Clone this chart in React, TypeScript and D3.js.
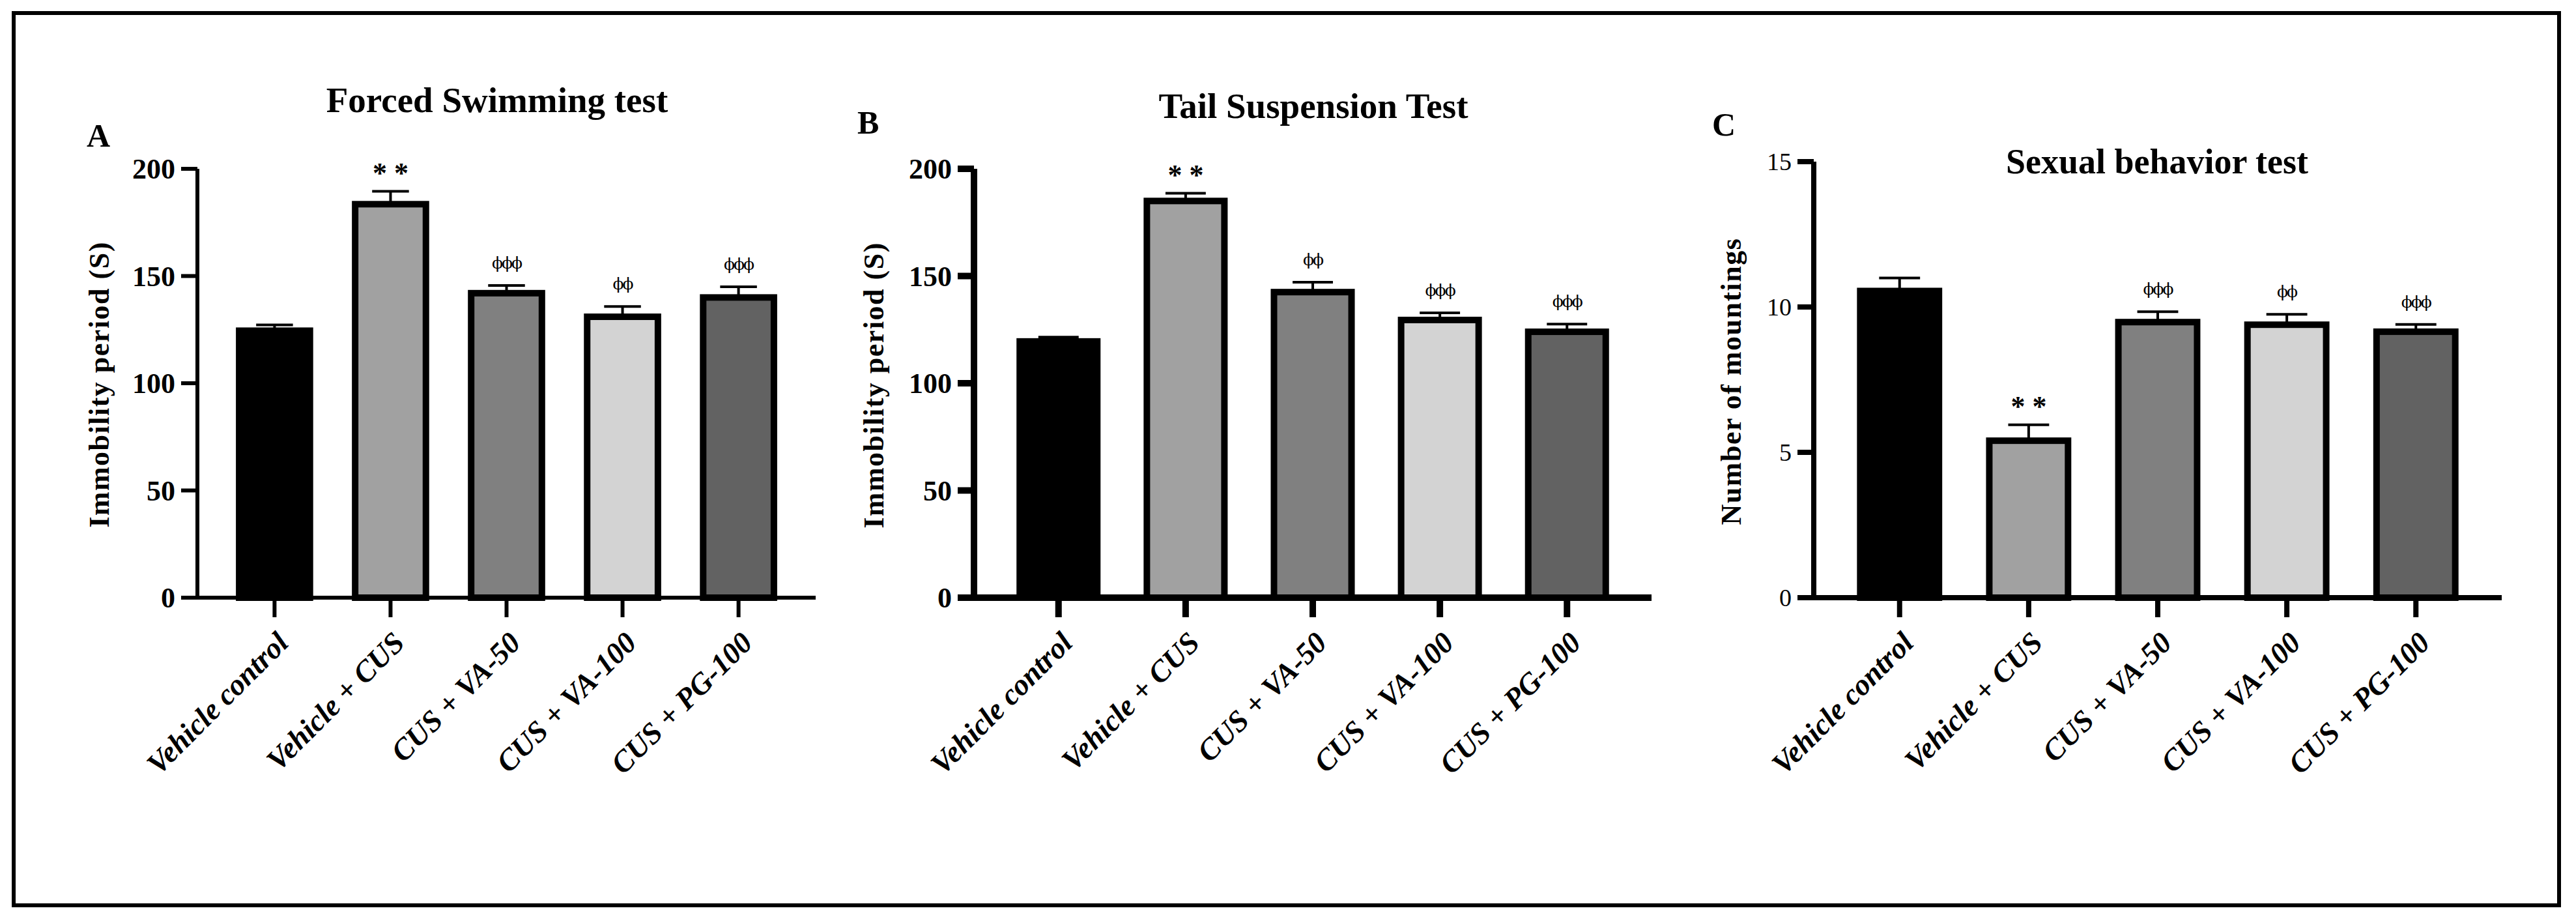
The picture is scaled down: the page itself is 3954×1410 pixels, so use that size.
import React from 'react';
import * as d3 from 'd3';

const W = 3954;
const H = 1410;
const serif = "'Liberation Serif', 'Times New Roman', serif";

// groups shared by the three tests
const groups = ['Vehicle control', 'Vehicle + CUS', 'CUS + VA-50', 'CUS + VA-100', 'CUS + PG-100'];
const fills = ['#000000', '#a1a1a1', '#808080', '#d3d3d3', '#626262'];

// A: forced swimming, immobility (s)
const fstMean = [124.5, 183.5, 142, 131, 140];
const fstSem = [2.7, 6, 3.6, 4.8, 5];
const fstSig = ['', '* *', 'ϕϕϕ', 'ϕϕ', 'ϕϕϕ'];

// B: tail suspension, immobility (s)
const tstMean = [119.5, 185, 142.5, 129.5, 124];
const tstSem = [2, 3.6, 4.6, 3.3, 3.6];
const tstSig = ['', '* *', 'ϕϕ', 'ϕϕϕ', 'ϕϕϕ'];

// C: sexual behaviour, number of mountings
const sbtMean = [10.55, 5.4, 9.48, 9.39, 9.15];
const sbtSem = [0.45, 0.55, 0.36, 0.36, 0.25];
const sbtSig = ['', '* *', 'ϕϕϕ', 'ϕϕ', 'ϕϕϕ'];

const immobTicks = [0, 50, 100, 150, 200];
const mountTicks = [0, 5, 10, 15];

function Panel(p) {
  const x = d3.scaleBand().domain(groups).range([p.x0, p.x1]).paddingInner(0.39).paddingOuter(0.36);
  const y = d3.scaleLinear().domain([0, p.max]).range([917, p.yTop]);
  const bw = x.bandwidth();
  const base = y(0);
  const tickLen = 25;

  return (
    <g>
      <text x={p.letterX} y={p.letterY} fontFamily={serif} fontWeight="bold" fontSize={50}>{p.letter}</text>
      <text x={p.titleX} y={p.titleY} textAnchor="middle" fontFamily={serif} fontWeight="bold" fontSize={p.titleSize}>{p.title}</text>
      <text transform={`translate(${p.labelX},${p.labelY}) rotate(-90)`} textAnchor="middle"
        fontFamily={serif} fontWeight="bold" fontSize={44} letterSpacing={1.5}>{p.yLabel}</text>

      {groups.map((g, i) => {
        const v = p.mean[i];
        const cx = x(g) + bw / 2;
        const top = y(v + p.sem[i]);
        const capW = bw * 0.52;
        const isPhi = p.sig[i].startsWith('ϕ');
        return (
          <g key={g}>
            <line x1={cx} x2={cx} y1={y(v)} y2={top} stroke="#000" strokeWidth={4} />
            <line x1={cx - capW / 2} x2={cx + capW / 2} y1={top} y2={top} stroke="#000" strokeWidth={4} />
            <rect x={x(g)} y={y(v)} width={bw} height={base - y(v)} fill={fills[i]} stroke="#000" strokeWidth={10} />
            {p.sig[i] && (
              <text x={cx} y={top - (isPhi ? 26 : 14)} textAnchor="middle"
                fontFamily={isPhi ? "'DejaVu Serif', serif" : serif} fill="#000"
                fontWeight={isPhi ? 'normal' : 'bold'} fontSize={isPhi ? 25 : 44}
                letterSpacing={isPhi ? -2 : 0}>{p.sig[i]}</text>
            )}
          </g>
        );
      })}

      {/* y axis */}
      <line x1={p.x0} x2={p.x0} y1={base + p.axisW / 2} y2={p.yTop} stroke="#000" strokeWidth={p.axisW} />
      {p.ticks.map((t) => (
        <g key={t}>
          <line x1={p.x0 - tickLen} x2={p.x0} y1={y(t)} y2={y(t)} stroke="#000" strokeWidth={p.axisW} />
          <text x={p.x0 - tickLen - 9} y={y(t)} dy="0.35em" textAnchor="end" fontFamily={serif}
            fontWeight={p.tickBold ? 'bold' : 'normal'} fontSize={p.tickSize}>{t}</text>
        </g>
      ))}

      {/* x axis */}
      <line x1={p.x0} x2={p.x1} y1={base} y2={base} stroke="#000" strokeWidth={p.axisW} />
      {groups.map((g) => {
        const cx = x(g) + bw / 2;
        return (
          <g key={g}>
            <line x1={cx} x2={cx} y1={base} y2={base + 30} stroke="#000" strokeWidth={p.axisW} />
            <text transform={`translate(${cx + 24},${base + 72}) rotate(-45)`} textAnchor="end"
              fontFamily={serif} fontWeight="bold" fontStyle="italic" fontSize={46}>{g}</text>
          </g>
        );
      })}
    </g>
  );
}

export default function App() {
  return (
    <svg width={W} height={H} style={{ position: 'absolute', left: 0, top: 0, background: '#fff' }}>
      <rect x={0} y={0} width={W} height={H} fill="#fff" />
      <rect x={21} y={20} width={3907} height={1369} fill="none" stroke="#000" strokeWidth={6} />

      <Panel letter="A" letterX={133} letterY={225} title="Forced Swimming test" titleX={763} titleY={172} titleSize={55}
        yLabel="Immobility period (S)" labelX={167} labelY={590}
        x0={303} x1={1252} yTop={259} max={200} ticks={immobTicks}
        mean={fstMean} sem={fstSem} sig={fstSig} axisW={6} tickBold tickSize={44} />

      <Panel letter="B" letterX={1316} letterY={205} title="Tail Suspension Test" titleX={2016} titleY={181} titleSize={55}
        yLabel="Immobility period (S)" labelX={1356} labelY={591}
        x0={1495} x1={2535} yTop={259} max={200} ticks={immobTicks}
        mean={tstMean} sem={tstSem} sig={tstSig} axisW={10} tickBold tickSize={44} />

      <Panel letter="C" letterX={2628} letterY={208} title="Sexual behavior test" titleX={3311} titleY={266} titleSize={54}
        yLabel="Number of mountings" labelX={2672} labelY={585}
        x0={2784} x1={3840} yTop={248} max={15} ticks={mountTicks}
        mean={sbtMean} sem={sbtSem} sig={sbtSig} axisW={8} tickBold={false} tickSize={38} />
    </svg>
  );
}
